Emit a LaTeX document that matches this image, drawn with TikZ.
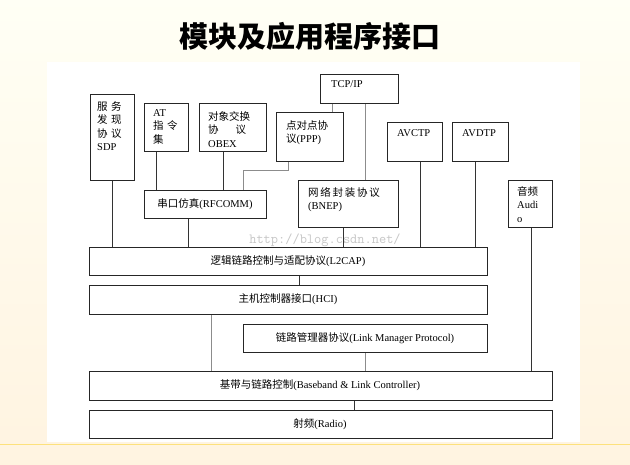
\documentclass[tikz,border=0pt]{standalone}
\usepackage{fontspec}
\setmainfont{Liberation Serif}
\newfontfamily\cjk{Noto Sans CJK SC}
\begin{document}
\begin{tikzpicture}[x=1pt,y=-1pt,
  bx/.style={draw=black!85,line width=0.8pt,fill=white},
  ln/.style={draw=black!80,line width=0.8pt},
  gl/.style={draw=black!45,line width=0.8pt},
  tx/.style={inner sep=0pt,anchor=north west,align=left,font=\fontsize{10.5}{13.5}\selectfont},
  ct/.style={inner sep=0pt,font=\fontsize{10.5}{13}\selectfont}]
\useasboundingbox (0,0) rectangle (630,465);
\fill[top color=white!60!yellow!10,bottom color=yellow!25!orange!12] (0,0) rectangle (630,465);
\fill[white] (47,62) rectangle (580,442);
\draw[yellow!60!orange!50,line width=1pt] (0,444) -- (630,444);
\node[font=\cjk\bfseries\fontsize{29}{32}\selectfont] (title) at (310,36) {模块及应用程序接口};
% connectors
\coordinate (p1) at (288,170); \coordinate (p2) at (243,170);
\draw[gl] (288,161) -- (p1) -- (p2) -- (243,190);
\draw[gl] (332,103) -- (332,112);
\draw[gl] (365,103) -- (365,180);
\draw[ln] (112,180) -- (112,247);
\draw[ln] (156,151) -- (156,190);
\draw[ln] (223,151) -- (223,190);
\draw[ln] (188,218) -- (188,247);
\draw[ln] (343,227) -- (343,247);
\draw[ln] (420,161) -- (420,247);
\draw[ln] (475,161) -- (475,247);
\draw[ln] (531,227) -- (531,371);
\draw[ln] (299,275) -- (299,285);
\draw[gl] (211,314) -- (211,371);
\draw[gl] (365,352) -- (365,371);
\draw[ln] (354,400) -- (354,410);
% boxes
\draw[bx] (90,94) rectangle (134,180);
\node[tx] (sdpt) at (97,101) {{\cjk 服\,\,务}\\{\cjk 发\,\,现}\\{\cjk 协\,\,议}\\SDP};
\draw[bx] (144,103) rectangle (188,151);
\node[tx] (att) at (153,109) {AT\\{\cjk 指\,\,令}\\{\cjk 集}};
\draw[bx] (199,103) rectangle (266,151);
\node[tx] (obext) at (208,111) {{\cjk 对象交换}\\{\cjk 协\hspace{1.6em}议}\\OBEX};
\draw[bx] (276,112) rectangle (343,161);
\node[tx] (pppt) at (286,120) {{\cjk 点对点协}\\{\cjk 议}(PPP)};
\draw[bx] (320,74) rectangle (398,103);
\node[tx] (tcpt) at (331,80) {TCP/IP};
\draw[bx] (144,190) rectangle (266,218);
\node[ct] (rf) at (205,204) {{\cjk 串口仿真}(RFCOMM)};
\draw[bx] (298,180) rectangle (398,227);
\node[tx] (bnept) at (308,187) {{\cjk 网\,络\,封\,装\,协\,议}\\(BNEP)};
\draw[bx] (387,122) rectangle (442,161);
\node[tx] (avc) at (397,129) {AVCTP};
\draw[bx] (452,122) rectangle (508,161);
\node[tx] (avd) at (462,129) {AVDTP};
\draw[bx] (508,180) rectangle (552,227);
\node[tx] (aud) at (517,186) {{\cjk 音频}\\Audi\\o};
\draw[bx] (89,247) rectangle (487,275);
\node[ct] (l2) at (288,261) {{\cjk 逻辑链路控制与适配协议}(L2CAP)};
\draw[bx] (89,285) rectangle (487,314);
\node[ct] (hci) at (288,299) {{\cjk 主机控制器接口}(HCI)};
\draw[bx] (243,324) rectangle (487,352);
\node[ct] (lmp) at (365,338) {{\cjk 链路管理器协议}(Link Manager Protocol)};
\draw[bx] (89,371) rectangle (552,400);
\node[ct] (bb) at (320,385) {{\cjk 基带与链路控制}(Baseband \& Link Controller)};
\draw[bx] (89,410) rectangle (552,438);
\node[ct] (rad) at (320,424) {{\cjk 射频}(Radio)};
\node[font=\ttfamily\fontsize{14}{14}\selectfont,text=black!22] (wm) at (325,240) {http://blog.csdn.net/};
\end{tikzpicture}
\end{document}
